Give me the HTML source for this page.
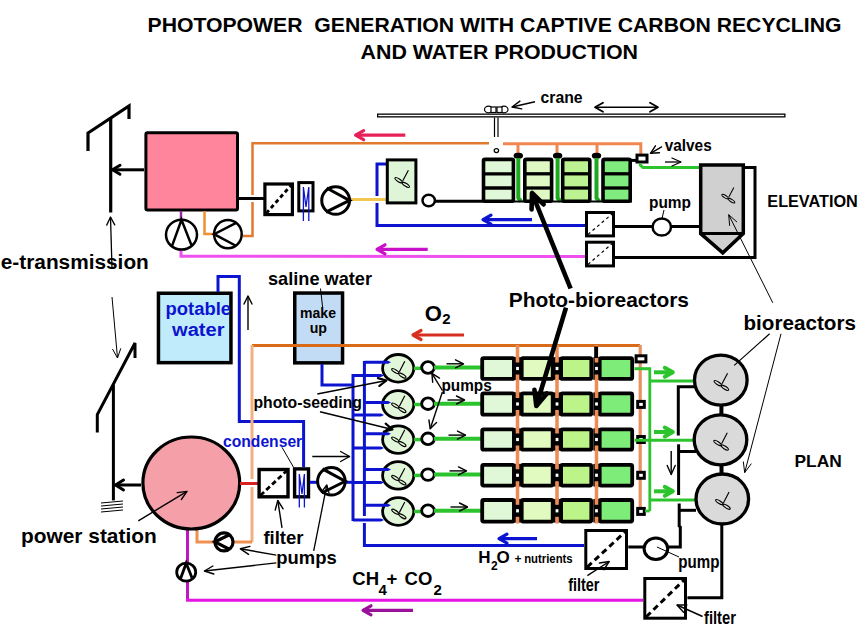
<!DOCTYPE html>
<html><head><meta charset="utf-8"><style>
html,body{margin:0;padding:0;background:#fff;}
body{width:859px;height:626px;overflow:hidden;}
svg{display:block;font-family:"Liberation Sans",sans-serif;}
</style></head><body>
<svg width="859" height="626" viewBox="0 0 859 626">
<rect width="859" height="626" fill="#fff"/>
<text x="147.5" y="31.5" font-size="21" fill="#000" font-weight="bold" textLength="694" lengthAdjust="spacingAndGlyphs" >PHOTOPOWER&#160; GENERATION WITH CAPTIVE CARBON RECYCLING</text>
<text x="360.5" y="58.5" font-size="21" fill="#000" font-weight="bold" textLength="277.5" lengthAdjust="spacingAndGlyphs" >AND WATER PRODUCTION</text>
<line x1="110.7" y1="118" x2="110.7" y2="212.5" stroke="#000" stroke-width="3.2" />
<polyline points="88,151 88,133 129,106 129,119" fill="none" stroke="#000" stroke-width="3.2" />
<line x1="144" y1="169.8" x2="112.5" y2="169.8" stroke="#000" stroke-width="3" />
<polyline points="120,165.3 112.5,169.8 120,174.3" fill="none" stroke="#000" stroke-width="3" stroke-linecap="round" stroke-linejoin="round"/>
<line x1="112" y1="268" x2="110.5" y2="217" stroke="#000" stroke-width="1.3" />
<polyline points="114.73,224.88 110.5,217 106.74,225.11" fill="none" stroke="#000" stroke-width="1.3" stroke-linecap="round" stroke-linejoin="round"/>
<rect x="145.9" y="132.7" width="91.6" height="77.2" fill="#ff859c" stroke="#000" stroke-width="3" rx="1.5"/>
<polyline points="204.5,211 204.5,234 213,234" fill="none" stroke="#f09030" stroke-width="2.5" />
<polyline points="243,236 252.5,236 252.5,143.3 489,143.3" fill="none" stroke="#e07a30" stroke-width="2.5" />
<rect x="250" y="195" width="5" height="7" fill="#fff"/>
<line x1="238" y1="198.5" x2="264" y2="198.5" stroke="#000" stroke-width="3" />
<polyline points="503,143.8 640.8,143.8 640.8,154" fill="none" stroke="#f08850" stroke-width="3" />
<line x1="518" y1="143" x2="518" y2="153" stroke="#f08850" stroke-width="3" />
<line x1="557" y1="143" x2="557" y2="153" stroke="#f08850" stroke-width="3" />
<line x1="597" y1="143" x2="597" y2="153" stroke="#f08850" stroke-width="3" />
<line x1="181" y1="211" x2="181" y2="219" stroke="#9030a0" stroke-width="2.5" />
<polyline points="181,250 181,256.3 585,256.6" fill="none" stroke="#ee50ee" stroke-width="3" />
<line x1="427.7" y1="249.3" x2="377" y2="249.3" stroke="#c810c8" stroke-width="3.2" />
<polyline points="385,244.8 377,249.3 385,253.8" fill="none" stroke="#c810c8" stroke-width="3.2" stroke-linecap="round" stroke-linejoin="round"/>
<ellipse cx="181.5" cy="234.7" rx="15.5" ry="14.9" fill="#fff" stroke="#000" stroke-width="2.5"/>
<polyline points="171.89,246.32 181.5,219.8 191.73,245.88" fill="none" stroke="#000" stroke-width="2.5" />
<ellipse cx="227.9" cy="234.2" rx="13.8" ry="14.1" fill="#fff" stroke="#000" stroke-width="2.5"/>
<polyline points="236.18,222.92 214.1,234.2 235.9,245.76" fill="none" stroke="#000" stroke-width="2.5" />
<rect x="264.9" y="184" width="27.5" height="30.6" fill="#fff" stroke="#000" stroke-width="3.2" />
<line x1="266.3" y1="213.2" x2="291" y2="185.4" stroke="#000" stroke-width="2.8" stroke-dasharray="4,3"/>
<rect x="298.8" y="182.6" width="14.2" height="28.3" fill="#fff" stroke="#000" stroke-width="3" />
<polyline points="303.4,221 303.4,187 306,207 308.8,187 308.8,221" fill="none" stroke="#0c14d0" stroke-width="1.3" />
<polyline points="386,164 377,164 377,225.6 585,225.6" fill="none" stroke="#0c14d0" stroke-width="3" />
<rect x="375" y="196" width="4" height="7" fill="#fff"/>
<line x1="350" y1="199.5" x2="386" y2="199.5" stroke="#f0c850" stroke-width="3" />
<ellipse cx="335.65" cy="200.45" rx="13.9" ry="13.8" fill="#fff" stroke="#000" stroke-width="3"/>
<polyline points="326.61,188.03 349.55,200.45 325.92,212.18" fill="none" stroke="#000" stroke-width="3" />
<line x1="532" y1="219.7" x2="483" y2="219.7" stroke="#0c14d0" stroke-width="3.2" />
<polyline points="491,215.2 483,219.7 491,224.2" fill="none" stroke="#0c14d0" stroke-width="3.2" stroke-linecap="round" stroke-linejoin="round"/>
<rect x="387.3" y="159.9" width="28.6" height="43" fill="#dff5d8" stroke="#000" stroke-width="3" />
<g transform="translate(402.2,182.5) scale(0.95)" fill="none" stroke="#000" stroke-width="1.2"><line x1="0.5" y1="-1.5" x2="6.5" y2="-13"/><ellipse cx="-3.8" cy="-2.4" rx="4.5" ry="1.5" transform="rotate(32 -3.8 -2.4)"/><ellipse cx="3.8" cy="2.4" rx="4.5" ry="1.5" transform="rotate(32 3.8 2.4)"/></g>
<ellipse cx="428.7" cy="200.5" rx="6.2" ry="5.8" fill="#fff" stroke="#000" stroke-width="2.5"/>
<line x1="435" y1="201.2" x2="483" y2="201.2" stroke="#000" stroke-width="3" />
<line x1="405.3" y1="135.2" x2="355.6" y2="135.2" stroke="#e8205a" stroke-width="3.2" />
<polyline points="363.6,130.7 355.6,135.2 363.6,139.7" fill="none" stroke="#e8205a" stroke-width="3.2" stroke-linecap="round" stroke-linejoin="round"/>
<rect x="377.65" y="114.15" width="407.2" height="2.7" fill="#fff" stroke="#000" stroke-width="1.3" />
<g fill="#fff" stroke="#000" stroke-width="1.2"><ellipse cx="488.5" cy="109.5" rx="4" ry="3.3"/><ellipse cx="504" cy="109.5" rx="4" ry="3.3"/><rect x="491" y="107" width="5" height="5.5"/><rect x="497" y="107" width="5" height="5.5"/></g>
<line x1="494.5" y1="117.5" x2="494.5" y2="137" stroke="#000" stroke-width="1.2" />
<line x1="498" y1="117.5" x2="498" y2="137" stroke="#000" stroke-width="1.2" />
<ellipse cx="496.4" cy="150.6" rx="2.2" ry="2" fill="#fff" stroke="#000" stroke-width="1.2"/>
<text x="540.5" y="103" font-size="16" fill="#000" font-weight="bold" textLength="42" lengthAdjust="spacingAndGlyphs" >crane</text>
<line x1="535" y1="101.8" x2="512" y2="107" stroke="#000" stroke-width="1.4" />
<polyline points="519.9,101.11 512,107 521.66,108.92" fill="none" stroke="#000" stroke-width="1.4" stroke-linecap="round" stroke-linejoin="round"/>
<line x1="595" y1="107.3" x2="658" y2="107.3" stroke="#000" stroke-width="1.5" />
<polyline points="603,102.8 595,107.3 603,111.8" fill="none" stroke="#000" stroke-width="1.8" stroke-linecap="round" stroke-linejoin="round"/>
<polyline points="650,111.8 658,107.3 650,102.8" fill="none" stroke="#000" stroke-width="1.8" stroke-linecap="round" stroke-linejoin="round"/>
<rect x="483.5" y="159.4" width="29.9" height="41.8" fill="#dff8d8" stroke="#000" stroke-width="3.6" rx="1.5"/>
<line x1="482.7" y1="173.8" x2="514.2" y2="173.8" stroke="#000" stroke-width="3.3" />
<line x1="482.7" y1="188" x2="514.2" y2="188" stroke="#000" stroke-width="3.3" />
<rect x="524.8" y="159.4" width="26.8" height="41.8" fill="#e0f8c4" stroke="#000" stroke-width="3.6" rx="1.5"/>
<line x1="524" y1="173.8" x2="552.4" y2="173.8" stroke="#000" stroke-width="3.3" />
<line x1="524" y1="188" x2="552.4" y2="188" stroke="#000" stroke-width="3.3" />
<rect x="562.7" y="159.4" width="27.1" height="41.8" fill="#bcf292" stroke="#000" stroke-width="3.6" rx="1.5"/>
<line x1="561.9" y1="173.8" x2="590.6" y2="173.8" stroke="#000" stroke-width="3.3" />
<line x1="561.9" y1="188" x2="590.6" y2="188" stroke="#000" stroke-width="3.3" />
<rect x="603" y="159.4" width="27.2" height="41.8" fill="#80ec80" stroke="#000" stroke-width="3.6" rx="1.5"/>
<line x1="602.2" y1="173.8" x2="631" y2="173.8" stroke="#000" stroke-width="3.3" />
<line x1="602.2" y1="188" x2="631" y2="188" stroke="#000" stroke-width="3.3" />
<rect x="515.1" y="154.2" width="6.4" height="3.1" fill="#fff" stroke="#000" stroke-width="3" rx="2.5"/>
<polyline points="518.3,158 518.3,198 521.3,201.5" fill="none" stroke="#1ea81e" stroke-width="4" />
<rect x="554.4" y="154.2" width="6.4" height="3.1" fill="#fff" stroke="#000" stroke-width="3" rx="2.5"/>
<polyline points="557.6,158 557.6,198 560.6,201.5" fill="none" stroke="#1ea81e" stroke-width="4" />
<rect x="593.3" y="154.2" width="6.4" height="3.1" fill="#fff" stroke="#000" stroke-width="3" rx="2.5"/>
<polyline points="596.5,158 596.5,198 599.5,201.5" fill="none" stroke="#1ea81e" stroke-width="4" />
<line x1="483" y1="201.5" x2="632" y2="201.5" stroke="#000" stroke-width="2" />
<line x1="631" y1="160.4" x2="636" y2="160.4" stroke="#000" stroke-width="3" />
<rect x="637" y="155.1" width="10" height="6.9" fill="#fff" stroke="#000" stroke-width="3" />
<polyline points="640.3,163.7 640.3,165 643,167.5 701,167.5" fill="none" stroke="#2cc42c" stroke-width="3" />
<line x1="665" y1="162" x2="681" y2="162" stroke="#000" stroke-width="1.3" />
<polyline points="672,166 681,162 672,158" fill="none" stroke="#000" stroke-width="1.3" stroke-linecap="round" stroke-linejoin="round"/>
<text x="664.7" y="150.7" font-size="16" fill="#000" font-weight="bold" textLength="47" lengthAdjust="spacingAndGlyphs" >valves</text>
<line x1="662" y1="146.7" x2="650.5" y2="153.3" stroke="#000" stroke-width="1.4" />
<polyline points="655.45,145.85 650.5,153.3 659.43,152.79" fill="none" stroke="#000" stroke-width="1.4" stroke-linecap="round" stroke-linejoin="round"/>
<path d="M700.7,165 L743.3,165 L743.3,233.6 L722.8,252.8 L700.7,233.6 Z" fill="#d0d0d0" stroke="#000" stroke-width="3.5"/>
<line x1="700.7" y1="233.6" x2="743.3" y2="233.6" stroke="#000" stroke-width="3" />
<polyline points="743,167.5 755,167.5 755,257.5 615,257.5" fill="none" stroke="#000" stroke-width="3" />
<g transform="translate(728.3,198.6) scale(0.85)" fill="none" stroke="#000" stroke-width="1.2"><line x1="0.5" y1="-1.5" x2="6.5" y2="-13"/><ellipse cx="-3.8" cy="-2.4" rx="4.5" ry="1.5" transform="rotate(32 -3.8 -2.4)"/><ellipse cx="3.8" cy="2.4" rx="4.5" ry="1.5" transform="rotate(32 3.8 2.4)"/></g>
<text x="767.3" y="206.7" font-size="16" fill="#000" font-weight="bold" textLength="90.5" lengthAdjust="spacingAndGlyphs" >ELEVATION</text>
<text x="649" y="207.5" font-size="16" fill="#000" font-weight="bold" textLength="42" lengthAdjust="spacingAndGlyphs" >pump</text>
<line x1="664" y1="210" x2="660" y2="227" stroke="#000" stroke-width="1" />
<line x1="615" y1="226.6" x2="700.7" y2="226.6" stroke="#000" stroke-width="3" />
<ellipse cx="661.8" cy="227" rx="9.2" ry="8.6" fill="#fff" stroke="#000" stroke-width="2.5"/>
<rect x="586.5" y="212.5" width="27" height="23.4" fill="#fff" stroke="#000" stroke-width="3" />
<line x1="588" y1="234.4" x2="612" y2="214" stroke="#000" stroke-width="1.2" stroke-dasharray="3,3"/>
<rect x="586.5" y="242.2" width="27" height="23.7" fill="#fff" stroke="#000" stroke-width="3" />
<line x1="588" y1="264.4" x2="612" y2="243.7" stroke="#000" stroke-width="1.2" stroke-dasharray="3,3"/>
<text x="0.8" y="269" font-size="20" fill="#000" font-weight="bold" textLength="148" lengthAdjust="spacingAndGlyphs" >e-transmission</text>
<text x="268" y="284.5" font-size="19" fill="#000" font-weight="bold" textLength="104" lengthAdjust="spacingAndGlyphs" >saline water</text>
<text x="508.7" y="307.3" font-size="21" fill="#000" font-weight="bold" textLength="180.3" lengthAdjust="spacingAndGlyphs" >Photo-bioreactors</text>
<text x="743.5" y="330" font-size="20" fill="#000" font-weight="bold" textLength="112.5" lengthAdjust="spacingAndGlyphs" >bioreactors</text>
<text x="424.8" y="320.6" font-size="22" fill="#000" font-weight="bold" >O</text>
<text x="442.3" y="323.9" font-size="15" fill="#000" font-weight="bold" >2</text>
<line x1="464" y1="335" x2="413" y2="335" stroke="#d83020" stroke-width="3.2" />
<polyline points="421,330.5 413,335 421,339.5" fill="none" stroke="#d83020" stroke-width="3.2" stroke-linecap="round" stroke-linejoin="round"/>
<line x1="772.8" y1="302.8" x2="728.7" y2="214.7" stroke="#000" stroke-width="1" />
<polyline points="736.75,221.85 728.7,214.7 729.6,225.43" fill="none" stroke="#000" stroke-width="1" stroke-linecap="round" stroke-linejoin="round"/>
<rect x="158.45" y="293.25" width="72.5" height="69.4" fill="#c0ebfb" stroke="#000" stroke-width="3.5" />
<text x="165.6" y="314.5" font-size="18" fill="#0c14d0" font-weight="bold" textLength="65.5" lengthAdjust="spacingAndGlyphs" >potable</text>
<text x="172" y="335.6" font-size="18" fill="#0c14d0" font-weight="bold" textLength="52.5" lengthAdjust="spacingAndGlyphs" >water</text>
<polyline points="218,292 218,276.6 239.3,276.6 239.3,421.4 303.6,421.4 303.6,467" fill="none" stroke="#0c14d0" stroke-width="3" />
<line x1="248" y1="330" x2="248" y2="296" stroke="#000" stroke-width="1.4" />
<polyline points="252,304 248,296 244,304" fill="none" stroke="#000" stroke-width="1.4" stroke-linecap="round" stroke-linejoin="round"/>
<rect x="294.75" y="293.05" width="47.8" height="69.8" fill="#c2dcf6" stroke="#000" stroke-width="3.5" />
<text x="300" y="318.3" font-size="14" fill="#000" font-weight="bold" textLength="36" lengthAdjust="spacingAndGlyphs" >make</text>
<text x="309.7" y="332.5" font-size="14" fill="#000" font-weight="bold" textLength="17.3" lengthAdjust="spacingAndGlyphs" >up</text>
<line x1="320.5" y1="288.5" x2="322.6" y2="307" stroke="#000" stroke-width="1" />
<polyline points="322,364 322,384.9 353,384.9" fill="none" stroke="#0c14d0" stroke-width="3" />
<line x1="252" y1="345.5" x2="640" y2="345.5" stroke="#d86a18" stroke-width="3" />
<line x1="252" y1="345" x2="252" y2="479" stroke="#f0b080" stroke-width="3" />
<line x1="252" y1="487" x2="252" y2="542" stroke="#f0b080" stroke-width="3" />
<polyline points="197,529 197,542 252,542" fill="none" stroke="#f09050" stroke-width="3" />
<line x1="517.5" y1="345" x2="517.5" y2="523" stroke="#ee8c55" stroke-width="3.5" />
<line x1="557" y1="345" x2="557" y2="523" stroke="#ee8c55" stroke-width="3.5" />
<line x1="596.5" y1="345" x2="596.5" y2="523" stroke="#ee8c55" stroke-width="3.5" />
<line x1="640.2" y1="345" x2="640.2" y2="511" stroke="#e89060" stroke-width="3.2" />
<line x1="364.4" y1="361" x2="364.4" y2="516" stroke="#0c14d0" stroke-width="3" />
<line x1="364.4" y1="523" x2="364.4" y2="547" stroke="#0c14d0" stroke-width="3" />
<line x1="353" y1="374" x2="353" y2="521" stroke="#0c14d0" stroke-width="3" />
<line x1="363" y1="545.5" x2="584" y2="545.5" stroke="#0c14d0" stroke-width="3" />
<line x1="537" y1="538.7" x2="499" y2="538.7" stroke="#0c14d0" stroke-width="3.2" />
<polyline points="507,534.2 499,538.7 507,543.2" fill="none" stroke="#0c14d0" stroke-width="3.2" stroke-linecap="round" stroke-linejoin="round"/>
<ellipse cx="398.2" cy="368.3" rx="15.6" ry="13.8" fill="#e2f6da" stroke="#000" stroke-width="2.8"/>
<g transform="translate(398.8,373.3) scale(0.92)" fill="none" stroke="#000" stroke-width="1.3"><line x1="0.5" y1="-1.5" x2="6.5" y2="-13"/><ellipse cx="-3.8" cy="-2.4" rx="4.5" ry="1.5" transform="rotate(32 -3.8 -2.4)"/><ellipse cx="3.8" cy="2.4" rx="4.5" ry="1.5" transform="rotate(32 3.8 2.4)"/></g>
<line x1="414" y1="368.3" x2="421" y2="368.3" stroke="#2cc42c" stroke-width="3.5" />
<ellipse cx="428" cy="367.5" rx="6.3" ry="5.8" fill="#fff" stroke="#000" stroke-width="2.8"/>
<line x1="434" y1="367.5" x2="481" y2="367.5" stroke="#2cc42c" stroke-width="4" />
<line x1="446.5" y1="363.8" x2="463.5" y2="363.8" stroke="#000" stroke-width="1.4" />
<polyline points="455.5,367.8 463.5,363.8 455.5,359.8" fill="none" stroke="#000" stroke-width="1.4" stroke-linecap="round" stroke-linejoin="round"/>
<ellipse cx="398.2" cy="404.5" rx="15.6" ry="13.8" fill="#e2f6da" stroke="#000" stroke-width="2.8"/>
<g transform="translate(398.8,407.8) scale(0.92)" fill="none" stroke="#000" stroke-width="1.3"><line x1="0.5" y1="-1.5" x2="6.5" y2="-13"/><ellipse cx="-3.8" cy="-2.4" rx="4.5" ry="1.5" transform="rotate(32 -3.8 -2.4)"/><ellipse cx="3.8" cy="2.4" rx="4.5" ry="1.5" transform="rotate(32 3.8 2.4)"/></g>
<line x1="414" y1="404.5" x2="421" y2="404.5" stroke="#2cc42c" stroke-width="3.5" />
<ellipse cx="428" cy="403.7" rx="6.3" ry="5.8" fill="#fff" stroke="#000" stroke-width="2.8"/>
<line x1="434" y1="403.7" x2="481" y2="403.7" stroke="#2cc42c" stroke-width="4" />
<line x1="447.5" y1="400" x2="464.5" y2="400" stroke="#000" stroke-width="1.4" />
<polyline points="456.5,404 464.5,400 456.5,396" fill="none" stroke="#000" stroke-width="1.4" stroke-linecap="round" stroke-linejoin="round"/>
<ellipse cx="398.2" cy="439.6" rx="15.6" ry="13.8" fill="#e2f6da" stroke="#000" stroke-width="2.8"/>
<g transform="translate(398.8,441.8) scale(0.92)" fill="none" stroke="#000" stroke-width="1.3"><line x1="0.5" y1="-1.5" x2="6.5" y2="-13"/><ellipse cx="-3.8" cy="-2.4" rx="4.5" ry="1.5" transform="rotate(32 -3.8 -2.4)"/><ellipse cx="3.8" cy="2.4" rx="4.5" ry="1.5" transform="rotate(32 3.8 2.4)"/></g>
<line x1="414" y1="439.6" x2="421" y2="439.6" stroke="#2cc42c" stroke-width="3.5" />
<ellipse cx="428" cy="438.8" rx="6.3" ry="5.8" fill="#fff" stroke="#000" stroke-width="2.8"/>
<line x1="434" y1="438.8" x2="481" y2="438.8" stroke="#2cc42c" stroke-width="4" />
<line x1="448.5" y1="435.1" x2="465.5" y2="435.1" stroke="#000" stroke-width="1.4" />
<polyline points="457.5,439.1 465.5,435.1 457.5,431.1" fill="none" stroke="#000" stroke-width="1.4" stroke-linecap="round" stroke-linejoin="round"/>
<ellipse cx="398.2" cy="475.4" rx="15.6" ry="13.8" fill="#e2f6da" stroke="#000" stroke-width="2.8"/>
<g transform="translate(398.8,480.2) scale(0.92)" fill="none" stroke="#000" stroke-width="1.3"><line x1="0.5" y1="-1.5" x2="6.5" y2="-13"/><ellipse cx="-3.8" cy="-2.4" rx="4.5" ry="1.5" transform="rotate(32 -3.8 -2.4)"/><ellipse cx="3.8" cy="2.4" rx="4.5" ry="1.5" transform="rotate(32 3.8 2.4)"/></g>
<line x1="414" y1="475.4" x2="421" y2="475.4" stroke="#2cc42c" stroke-width="3.5" />
<ellipse cx="428" cy="474.6" rx="6.3" ry="5.8" fill="#fff" stroke="#000" stroke-width="2.8"/>
<line x1="434" y1="474.6" x2="481" y2="474.6" stroke="#2cc42c" stroke-width="4" />
<line x1="449.5" y1="470.9" x2="466.5" y2="470.9" stroke="#000" stroke-width="1.4" />
<polyline points="458.5,474.9 466.5,470.9 458.5,466.9" fill="none" stroke="#000" stroke-width="1.4" stroke-linecap="round" stroke-linejoin="round"/>
<ellipse cx="398.2" cy="511.5" rx="15.6" ry="13.8" fill="#e2f6da" stroke="#000" stroke-width="2.8"/>
<g transform="translate(398.8,514) scale(0.92)" fill="none" stroke="#000" stroke-width="1.3"><line x1="0.5" y1="-1.5" x2="6.5" y2="-13"/><ellipse cx="-3.8" cy="-2.4" rx="4.5" ry="1.5" transform="rotate(32 -3.8 -2.4)"/><ellipse cx="3.8" cy="2.4" rx="4.5" ry="1.5" transform="rotate(32 3.8 2.4)"/></g>
<line x1="414" y1="511.5" x2="421" y2="511.5" stroke="#2cc42c" stroke-width="3.5" />
<ellipse cx="428" cy="510.7" rx="6.3" ry="5.8" fill="#fff" stroke="#000" stroke-width="2.8"/>
<line x1="434" y1="510.7" x2="481" y2="510.7" stroke="#2cc42c" stroke-width="4" />
<line x1="450.5" y1="507" x2="467.5" y2="507" stroke="#000" stroke-width="1.4" />
<polyline points="459.5,511 467.5,507 459.5,503" fill="none" stroke="#000" stroke-width="1.4" stroke-linecap="round" stroke-linejoin="round"/>
<path d="M364.4,360.8 L388,360.8 L391,362.3 L388,363.8 L364.4,363.8 Z" fill="#0c14d0"/>
<path d="M353,374.0 L381,374.0 L384,375.5 L381,377.0 L353,377.0 Z" fill="#0c14d0"/>
<path d="M364.4,400.9 L388,400.9 L391,402.4 L388,403.9 L364.4,403.9 Z" fill="#0c14d0"/>
<path d="M353,413.4 L381,413.4 L384,414.9 L381,416.4 L353,416.4 Z" fill="#0c14d0"/>
<path d="M364.4,432.2 L388,432.2 L391,433.7 L388,435.2 L364.4,435.2 Z" fill="#0c14d0"/>
<path d="M353,446.6 L381,446.6 L384,448.1 L381,449.6 L353,449.6 Z" fill="#0c14d0"/>
<path d="M364.4,468.1 L388,468.1 L391,469.6 L388,471.1 L364.4,471.1 Z" fill="#0c14d0"/>
<path d="M353,480.9 L381,480.9 L384,482.4 L381,483.9 L353,483.9 Z" fill="#0c14d0"/>
<path d="M364.4,503.7 L388,503.7 L391,505.2 L388,506.7 L364.4,506.7 Z" fill="#0c14d0"/>
<path d="M353,518.4 L381,518.4 L384,519.9 L381,521.4 L353,521.4 Z" fill="#0c14d0"/>
<rect x="482.2" y="358.1" width="31.7" height="20.8" fill="#e0f8d8" stroke="#000" stroke-width="3.8" rx="1.5"/>
<rect x="521.7" y="358.1" width="31" height="20.8" fill="#e0fac0" stroke="#000" stroke-width="3.8" rx="1.5"/>
<rect x="561.1" y="358.1" width="30.2" height="20.8" fill="#bdf48a" stroke="#000" stroke-width="3.8" rx="1.5"/>
<rect x="599.7" y="358.1" width="32.5" height="20.8" fill="#7eec78" stroke="#000" stroke-width="3.8" rx="1.5"/>
<rect x="482.2" y="393.3" width="31.7" height="21.4" fill="#e0f8d8" stroke="#000" stroke-width="3.8" rx="1.5"/>
<rect x="521.7" y="393.3" width="31" height="21.4" fill="#e0fac0" stroke="#000" stroke-width="3.8" rx="1.5"/>
<rect x="561.1" y="393.3" width="30.2" height="21.4" fill="#bdf48a" stroke="#000" stroke-width="3.8" rx="1.5"/>
<rect x="599.7" y="393.3" width="32.5" height="21.4" fill="#7eec78" stroke="#000" stroke-width="3.8" rx="1.5"/>
<rect x="482.2" y="429.3" width="31.7" height="20.4" fill="#e0f8d8" stroke="#000" stroke-width="3.8" rx="1.5"/>
<rect x="521.7" y="429.3" width="31" height="20.4" fill="#e0fac0" stroke="#000" stroke-width="3.8" rx="1.5"/>
<rect x="561.1" y="429.3" width="30.2" height="20.4" fill="#bdf48a" stroke="#000" stroke-width="3.8" rx="1.5"/>
<rect x="599.7" y="429.3" width="32.5" height="20.4" fill="#7eec78" stroke="#000" stroke-width="3.8" rx="1.5"/>
<rect x="482.2" y="464.9" width="31.7" height="20.7" fill="#e0f8d8" stroke="#000" stroke-width="3.8" rx="1.5"/>
<rect x="521.7" y="464.9" width="31" height="20.7" fill="#e0fac0" stroke="#000" stroke-width="3.8" rx="1.5"/>
<rect x="561.1" y="464.9" width="30.2" height="20.7" fill="#bdf48a" stroke="#000" stroke-width="3.8" rx="1.5"/>
<rect x="599.7" y="464.9" width="32.5" height="20.7" fill="#7eec78" stroke="#000" stroke-width="3.8" rx="1.5"/>
<rect x="482.2" y="500" width="31.7" height="21.6" fill="#e0f8d8" stroke="#000" stroke-width="3.8" rx="1.5"/>
<rect x="521.7" y="500" width="31" height="21.6" fill="#e0fac0" stroke="#000" stroke-width="3.8" rx="1.5"/>
<rect x="561.1" y="500" width="30.2" height="21.6" fill="#bdf48a" stroke="#000" stroke-width="3.8" rx="1.5"/>
<rect x="599.7" y="500" width="32.5" height="21.6" fill="#7eec78" stroke="#000" stroke-width="3.8" rx="1.5"/>
<rect x="514.3" y="357.2" width="6.4" height="22.6" fill="#000"/>
<rect x="515.7" y="356.2" width="3.6" height="6.3" fill="#ee8c55"/>
<rect x="515.7" y="374.5" width="3.6" height="6.3" fill="#ee8c55"/>
<rect x="516.1" y="366.9" width="2.8" height="3.2" fill="#fff"/>
<rect x="553.8" y="357.2" width="6.4" height="22.6" fill="#000"/>
<rect x="555.2" y="356.2" width="3.6" height="6.3" fill="#ee8c55"/>
<rect x="555.2" y="374.5" width="3.6" height="6.3" fill="#ee8c55"/>
<rect x="555.6" y="366.9" width="2.8" height="3.2" fill="#fff"/>
<rect x="593.3" y="357.2" width="6.4" height="22.6" fill="#000"/>
<rect x="594.7" y="356.2" width="3.6" height="6.3" fill="#ee8c55"/>
<rect x="594.7" y="374.5" width="3.6" height="6.3" fill="#ee8c55"/>
<rect x="595.1" y="366.9" width="2.8" height="3.2" fill="#fff"/>
<rect x="514.3" y="392.4" width="6.4" height="23.2" fill="#000"/>
<rect x="515.7" y="391.4" width="3.6" height="6.6" fill="#ee8c55"/>
<rect x="515.7" y="410" width="3.6" height="6.6" fill="#ee8c55"/>
<rect x="516.1" y="402.4" width="2.8" height="3.2" fill="#fff"/>
<rect x="553.8" y="392.4" width="6.4" height="23.2" fill="#000"/>
<rect x="555.2" y="391.4" width="3.6" height="6.6" fill="#ee8c55"/>
<rect x="555.2" y="410" width="3.6" height="6.6" fill="#ee8c55"/>
<rect x="555.6" y="402.4" width="2.8" height="3.2" fill="#fff"/>
<rect x="593.3" y="392.4" width="6.4" height="23.2" fill="#000"/>
<rect x="594.7" y="391.4" width="3.6" height="6.6" fill="#ee8c55"/>
<rect x="594.7" y="410" width="3.6" height="6.6" fill="#ee8c55"/>
<rect x="595.1" y="402.4" width="2.8" height="3.2" fill="#fff"/>
<rect x="514.3" y="428.4" width="6.4" height="22.2" fill="#000"/>
<rect x="515.7" y="427.4" width="3.6" height="6.1" fill="#ee8c55"/>
<rect x="515.7" y="445.5" width="3.6" height="6.1" fill="#ee8c55"/>
<rect x="516.1" y="437.9" width="2.8" height="3.2" fill="#fff"/>
<rect x="553.8" y="428.4" width="6.4" height="22.2" fill="#000"/>
<rect x="555.2" y="427.4" width="3.6" height="6.1" fill="#ee8c55"/>
<rect x="555.2" y="445.5" width="3.6" height="6.1" fill="#ee8c55"/>
<rect x="555.6" y="437.9" width="2.8" height="3.2" fill="#fff"/>
<rect x="593.3" y="428.4" width="6.4" height="22.2" fill="#000"/>
<rect x="594.7" y="427.4" width="3.6" height="6.1" fill="#ee8c55"/>
<rect x="594.7" y="445.5" width="3.6" height="6.1" fill="#ee8c55"/>
<rect x="595.1" y="437.9" width="2.8" height="3.2" fill="#fff"/>
<rect x="514.3" y="464" width="6.4" height="22.5" fill="#000"/>
<rect x="515.7" y="463" width="3.6" height="6.25" fill="#ee8c55"/>
<rect x="515.7" y="481.25" width="3.6" height="6.25" fill="#ee8c55"/>
<rect x="516.1" y="473.65" width="2.8" height="3.2" fill="#fff"/>
<rect x="553.8" y="464" width="6.4" height="22.5" fill="#000"/>
<rect x="555.2" y="463" width="3.6" height="6.25" fill="#ee8c55"/>
<rect x="555.2" y="481.25" width="3.6" height="6.25" fill="#ee8c55"/>
<rect x="555.6" y="473.65" width="2.8" height="3.2" fill="#fff"/>
<rect x="593.3" y="464" width="6.4" height="22.5" fill="#000"/>
<rect x="594.7" y="463" width="3.6" height="6.25" fill="#ee8c55"/>
<rect x="594.7" y="481.25" width="3.6" height="6.25" fill="#ee8c55"/>
<rect x="595.1" y="473.65" width="2.8" height="3.2" fill="#fff"/>
<rect x="514.3" y="499.1" width="6.4" height="23.4" fill="#000"/>
<rect x="515.7" y="498.1" width="3.6" height="6.7" fill="#ee8c55"/>
<rect x="515.7" y="516.8" width="3.6" height="6.7" fill="#ee8c55"/>
<rect x="516.1" y="509.2" width="2.8" height="3.2" fill="#fff"/>
<rect x="553.8" y="499.1" width="6.4" height="23.4" fill="#000"/>
<rect x="555.2" y="498.1" width="3.6" height="6.7" fill="#ee8c55"/>
<rect x="555.2" y="516.8" width="3.6" height="6.7" fill="#ee8c55"/>
<rect x="555.6" y="509.2" width="2.8" height="3.2" fill="#fff"/>
<rect x="593.3" y="499.1" width="6.4" height="23.4" fill="#000"/>
<rect x="594.7" y="498.1" width="3.6" height="6.7" fill="#ee8c55"/>
<rect x="594.7" y="516.8" width="3.6" height="6.7" fill="#ee8c55"/>
<rect x="595.1" y="509.2" width="2.8" height="3.2" fill="#fff"/>
<rect x="594.2" y="346.5" width="3.8" height="11.5" fill="#000"/>
<rect x="636.1" y="355.8" width="9.8" height="6.1" fill="#fff" stroke="#000" stroke-width="3" />
<rect x="637.7" y="401.4" width="6.6" height="6" fill="#fff" stroke="#000" stroke-width="3" />
<rect x="637.7" y="436.5" width="6.6" height="6" fill="#fff" stroke="#000" stroke-width="3" />
<rect x="637.7" y="472.3" width="6.6" height="6" fill="#fff" stroke="#000" stroke-width="3" />
<rect x="637.7" y="508.4" width="6.6" height="6" fill="#fff" stroke="#000" stroke-width="3" />
<line x1="634.6" y1="368.7" x2="651" y2="368.7" stroke="#2cc42c" stroke-width="3" />
<line x1="649.8" y1="368" x2="649.8" y2="511" stroke="#2cc42c" stroke-width="2.8" />
<line x1="645" y1="511" x2="649.8" y2="511" stroke="#2cc42c" stroke-width="2.8" />
<line x1="649.6" y1="381" x2="696" y2="381" stroke="#2cc42c" stroke-width="3" />
<line x1="634.6" y1="440.3" x2="696" y2="440.3" stroke="#2cc42c" stroke-width="3" />
<line x1="649.6" y1="500" x2="696" y2="500" stroke="#2cc42c" stroke-width="3" />
<line x1="654" y1="372.3" x2="672.8" y2="372.3" stroke="#2cc42c" stroke-width="4" />
<polyline points="664.8,376.8 672.8,372.3 664.8,367.8" fill="none" stroke="#2cc42c" stroke-width="4" stroke-linecap="round" stroke-linejoin="round"/>
<line x1="654" y1="432" x2="672.8" y2="432" stroke="#2cc42c" stroke-width="4" />
<polyline points="664.8,436.5 672.8,432 664.8,427.5" fill="none" stroke="#2cc42c" stroke-width="4" stroke-linecap="round" stroke-linejoin="round"/>
<line x1="654" y1="491.3" x2="672.8" y2="491.3" stroke="#2cc42c" stroke-width="4" />
<polyline points="664.8,495.8 672.8,491.3 664.8,486.8" fill="none" stroke="#2cc42c" stroke-width="4" stroke-linecap="round" stroke-linejoin="round"/>
<ellipse cx="720.8" cy="380.1" rx="26.3" ry="25" fill="#dadada" stroke="#000" stroke-width="3.3"/>
<g transform="translate(721.4,385.5) scale(0.95)" fill="none" stroke="#000" stroke-width="1.2"><line x1="0.5" y1="-1.5" x2="6.5" y2="-13"/><ellipse cx="-3.8" cy="-2.4" rx="4.5" ry="1.5" transform="rotate(32 -3.8 -2.4)"/><ellipse cx="3.8" cy="2.4" rx="4.5" ry="1.5" transform="rotate(32 3.8 2.4)"/></g>
<ellipse cx="720.5" cy="439.8" rx="26.3" ry="25" fill="#dadada" stroke="#000" stroke-width="3.3"/>
<g transform="translate(721.1,445.2) scale(0.95)" fill="none" stroke="#000" stroke-width="1.2"><line x1="0.5" y1="-1.5" x2="6.5" y2="-13"/><ellipse cx="-3.8" cy="-2.4" rx="4.5" ry="1.5" transform="rotate(32 -3.8 -2.4)"/><ellipse cx="3.8" cy="2.4" rx="4.5" ry="1.5" transform="rotate(32 3.8 2.4)"/></g>
<ellipse cx="722.3" cy="499" rx="26.3" ry="25" fill="#dadada" stroke="#000" stroke-width="3.3"/>
<g transform="translate(722.9,504.4) scale(0.95)" fill="none" stroke="#000" stroke-width="1.2"><line x1="0.5" y1="-1.5" x2="6.5" y2="-13"/><ellipse cx="-3.8" cy="-2.4" rx="4.5" ry="1.5" transform="rotate(32 -3.8 -2.4)"/><ellipse cx="3.8" cy="2.4" rx="4.5" ry="1.5" transform="rotate(32 3.8 2.4)"/></g>
<line x1="721.4" y1="405" x2="721.4" y2="415" stroke="#000" stroke-width="4" />
<line x1="721.5" y1="465" x2="721.5" y2="475" stroke="#000" stroke-width="4" />
<polyline points="696,386.8 678.3,386.8 678.3,435.5" fill="none" stroke="#000" stroke-width="3" />
<line x1="678.6" y1="444.3" x2="678.6" y2="495" stroke="#000" stroke-width="3" />
<line x1="678.6" y1="451.5" x2="696" y2="451.5" stroke="#000" stroke-width="3" />
<polyline points="679.2,503.5 679.2,526 680.3,527 680.3,547.1 628.3,547.1" fill="none" stroke="#000" stroke-width="3" />
<line x1="679.2" y1="510.3" x2="696" y2="510.3" stroke="#000" stroke-width="3" />
<line x1="671.2" y1="451" x2="671.2" y2="474.5" stroke="#000" stroke-width="1.4" />
<polyline points="667.2,465.5 671.2,474.5 675.2,465.5" fill="none" stroke="#000" stroke-width="1.4" stroke-linecap="round" stroke-linejoin="round"/>
<polyline points="721.8,523 721.8,597.8 687.4,597.8" fill="none" stroke="#000" stroke-width="3" />
<ellipse cx="655.9" cy="548.7" rx="11.8" ry="10.8" fill="#fff" stroke="#000" stroke-width="3"/>
<rect x="585.8" y="530.5" width="40.7" height="38" fill="#fff" stroke="#000" stroke-width="3" />
<line x1="587.3" y1="567" x2="625" y2="532" stroke="#000" stroke-width="3" stroke-dasharray="6,4"/>
<rect x="644.8" y="578.5" width="40.7" height="39.7" fill="#fff" stroke="#000" stroke-width="3" />
<line x1="646.3" y1="616.7" x2="684" y2="580" stroke="#000" stroke-width="3" stroke-dasharray="6,4"/>
<text x="678.3" y="568" font-size="18" fill="#000" font-weight="bold" textLength="41.2" lengthAdjust="spacingAndGlyphs" >pump</text>
<line x1="657" y1="547" x2="679" y2="557" stroke="#000" stroke-width="1" />
<text x="568.2" y="591" font-size="18" fill="#000" font-weight="bold" textLength="31.3" lengthAdjust="spacingAndGlyphs" >filter</text>
<line x1="587.4" y1="575.6" x2="609.2" y2="561.5" stroke="#000" stroke-width="1.4" />
<polyline points="603.82,569.75 609.2,561.5 599.47,563.03" fill="none" stroke="#000" stroke-width="1.4" stroke-linecap="round" stroke-linejoin="round"/>
<text x="704" y="624.2" font-size="18" fill="#000" font-weight="bold" textLength="32" lengthAdjust="spacingAndGlyphs" >filter</text>
<line x1="702.6" y1="616.5" x2="677" y2="605" stroke="#000" stroke-width="1.4" />
<polyline points="686.85,605.04 677,605 683.57,612.34" fill="none" stroke="#000" stroke-width="1.4" stroke-linecap="round" stroke-linejoin="round"/>
<line x1="769.6" y1="333.8" x2="734.2" y2="365.4" stroke="#000" stroke-width="1.2" />
<line x1="781" y1="333.8" x2="744.7" y2="472.6" stroke="#000" stroke-width="1" />
<polyline points="743.36,461.91 744.7,472.6 751.1,463.94" fill="none" stroke="#000" stroke-width="1" stroke-linecap="round" stroke-linejoin="round"/>
<text x="794.5" y="466.9" font-size="17" fill="#000" font-weight="bold" textLength="47.2" lengthAdjust="spacingAndGlyphs" >PLAN</text>
<text x="478.3" y="562.5" font-size="17" fill="#000" font-weight="bold" >H</text>
<text x="491" y="569.5" font-size="12" fill="#000" font-weight="bold" >2</text>
<text x="496.4" y="562.5" font-size="17" fill="#000" font-weight="bold" >O</text>
<text x="514.5" y="562.5" font-size="12" fill="#000" font-weight="bold" >+</text>
<text x="524.2" y="562.5" font-size="12.5" fill="#000" font-weight="bold" textLength="48.5" lengthAdjust="spacingAndGlyphs" >nutrients</text>
<text x="352.3" y="584.8" font-size="18.5" fill="#000" font-weight="bold" >CH</text>
<text x="378.5" y="595" font-size="15" fill="#000" font-weight="bold" >4</text>
<text x="386.5" y="584.8" font-size="18.5" fill="#000" font-weight="bold" >+</text>
<text x="404.6" y="584.8" font-size="18.5" fill="#000" font-weight="bold" >CO</text>
<text x="433.6" y="595" font-size="15" fill="#000" font-weight="bold" >2</text>
<line x1="187.5" y1="529.5" x2="187.5" y2="600" stroke="#c018c0" stroke-width="3" />
<line x1="186" y1="600.2" x2="643" y2="600.2" stroke="#e414e4" stroke-width="3" />
<line x1="413" y1="610.3" x2="363" y2="610.3" stroke="#9a109a" stroke-width="3.2" />
<polyline points="371,605.8 363,610.3 371,614.8" fill="none" stroke="#9a109a" stroke-width="3.2" stroke-linecap="round" stroke-linejoin="round"/>
<ellipse cx="186.2" cy="572.2" rx="9.5" ry="9" fill="#fff" stroke="#000" stroke-width="2.8"/>
<polyline points="180.31,579.22 186.2,563.2 192.47,578.95" fill="none" stroke="#000" stroke-width="2.8" />
<ellipse cx="191.3" cy="483" rx="48.4" ry="46" fill="#f5a0a8" stroke="#000" stroke-width="3.2"/>
<line x1="240" y1="483.5" x2="258" y2="483.5" stroke="#d82020" stroke-width="3" />
<rect x="259.1" y="469.5" width="28.9" height="27.3" fill="#fff" stroke="#000" stroke-width="3.4" />
<line x1="260.4" y1="495.5" x2="286.7" y2="470.8" stroke="#000" stroke-width="2.8" stroke-dasharray="5,3"/>
<rect x="294.6" y="468.9" width="13.9" height="27.9" fill="#fff" stroke="#000" stroke-width="3.4" />
<polyline points="299.3,507.5 299.3,474 302,494 304.4,474 304.4,507.5" fill="none" stroke="#0c14d0" stroke-width="1.3" />
<line x1="310" y1="482.3" x2="317" y2="482.3" stroke="#0c14d0" stroke-width="3" />
<line x1="345" y1="482.3" x2="353" y2="482.3" stroke="#0c14d0" stroke-width="3" />
<ellipse cx="331.4" cy="481.3" rx="13.8" ry="13.8" fill="#fff" stroke="#000" stroke-width="3"/>
<polyline points="322.43,468.88 345.2,481.3 321.74,493.03" fill="none" stroke="#000" stroke-width="3" />
<text x="223" y="446.5" font-size="16" fill="#0c14d0" font-weight="bold" textLength="79.2" lengthAdjust="spacingAndGlyphs" >condenser</text>
<line x1="282" y1="447.3" x2="293.6" y2="467.4" stroke="#000" stroke-width="1" />
<line x1="312.3" y1="456.5" x2="349.6" y2="456.5" stroke="#000" stroke-width="1.4" />
<polyline points="340.6,461.5 349.6,456.5 340.6,451.5" fill="none" stroke="#000" stroke-width="1.4" stroke-linecap="round" stroke-linejoin="round"/>
<ellipse cx="224" cy="541.9" rx="9" ry="9" fill="#fff" stroke="#000" stroke-width="3.2"/>
<polyline points="229.4,534.7 215,541.9 229.22,549.28" fill="none" stroke="#000" stroke-width="3.2" />
<text x="263.4" y="543.6" font-size="19" fill="#000" font-weight="bold" textLength="40.2" lengthAdjust="spacingAndGlyphs" >filter</text>
<text x="276.3" y="563.8" font-size="19" fill="#000" font-weight="bold" textLength="60.4" lengthAdjust="spacingAndGlyphs" >pumps</text>
<line x1="282" y1="527.8" x2="277.8" y2="500.5" stroke="#000" stroke-width="1.4" />
<polyline points="283.12,508.79 277.8,500.5 275.22,510" fill="none" stroke="#000" stroke-width="1.4" stroke-linecap="round" stroke-linejoin="round"/>
<line x1="276.3" y1="555.1" x2="240.4" y2="548.8" stroke="#000" stroke-width="1.4" />
<polyline points="249.96,546.42 240.4,548.8 248.57,554.3" fill="none" stroke="#000" stroke-width="1.4" stroke-linecap="round" stroke-linejoin="round"/>
<line x1="276.3" y1="562.9" x2="204.4" y2="571" stroke="#000" stroke-width="1.4" />
<polyline points="212.9,566.02 204.4,571 213.79,573.97" fill="none" stroke="#000" stroke-width="1.4" stroke-linecap="round" stroke-linejoin="round"/>
<line x1="313.7" y1="550.8" x2="326.8" y2="485" stroke="#000" stroke-width="1.3" />
<polyline points="329.16,493.63 326.8,485 321.31,492.06" fill="none" stroke="#000" stroke-width="1.3" stroke-linecap="round" stroke-linejoin="round"/>
<text x="21" y="543" font-size="21" fill="#000" font-weight="bold" textLength="135.7" lengthAdjust="spacingAndGlyphs" >power station</text>
<line x1="138.3" y1="520.8" x2="187" y2="491.4" stroke="#000" stroke-width="1.4" />
<polyline points="181.36,499.48 187,491.4 177.23,492.63" fill="none" stroke="#000" stroke-width="1.4" stroke-linecap="round" stroke-linejoin="round"/>
<line x1="113.4" y1="385" x2="113.4" y2="500.4" stroke="#000" stroke-width="3" />
<polyline points="97.3,432.5 97.3,414.6 135,343 135,358" fill="none" stroke="#000" stroke-width="3" />
<line x1="141" y1="485" x2="115.5" y2="485" stroke="#000" stroke-width="3" />
<polyline points="123.5,480 115.5,485 123.5,490" fill="none" stroke="#000" stroke-width="3" stroke-linecap="round" stroke-linejoin="round"/>
<line x1="101" y1="503" x2="123" y2="501" stroke="#000" stroke-width="1" />
<line x1="101" y1="506" x2="123" y2="504" stroke="#000" stroke-width="1" />
<line x1="101" y1="509" x2="123" y2="507" stroke="#000" stroke-width="1" />
<line x1="101" y1="512" x2="123" y2="510" stroke="#000" stroke-width="1" />
<line x1="112" y1="297" x2="117.5" y2="358" stroke="#000" stroke-width="1" />
<polyline points="112.71,349.4 117.5,358 120.68,348.68" fill="none" stroke="#000" stroke-width="1" stroke-linecap="round" stroke-linejoin="round"/>
<text x="253.4" y="407.6" font-size="16" fill="#000" font-weight="bold" textLength="108.6" lengthAdjust="spacingAndGlyphs" >photo-seeding</text>
<line x1="317.3" y1="394" x2="386.5" y2="380.5" stroke="#000" stroke-width="1.4" />
<polyline points="379.41,385.96 386.5,380.5 377.88,378.11" fill="none" stroke="#000" stroke-width="2.2" stroke-linecap="round" stroke-linejoin="round"/>
<line x1="320" y1="411.7" x2="392.5" y2="429.5" stroke="#000" stroke-width="1.4" />
<polyline points="383.78,431.48 392.5,429.5 385.68,423.71" fill="none" stroke="#000" stroke-width="2.2" stroke-linecap="round" stroke-linejoin="round"/>
<text x="441.4" y="390.5" font-size="17" fill="#000" font-weight="bold" textLength="50.3" lengthAdjust="spacingAndGlyphs" >pumps</text>
<line x1="442.4" y1="390.5" x2="431.9" y2="373.4" stroke="#000" stroke-width="1.4" />
<polyline points="439.49,378.12 431.9,373.4 432.68,382.31" fill="none" stroke="#000" stroke-width="1.4" stroke-linecap="round" stroke-linejoin="round"/>
<line x1="442.4" y1="392" x2="430.2" y2="428.8" stroke="#000" stroke-width="1.4" />
<polyline points="428.92,419.95 430.2,428.8 436.51,422.47" fill="none" stroke="#000" stroke-width="1.4" stroke-linecap="round" stroke-linejoin="round"/>
<line x1="570.6" y1="288.5" x2="532" y2="193" stroke="#000" stroke-width="4.6" />
<polyline points="543.65,204.47 532,193 531.59,209.34" fill="none" stroke="#000" stroke-width="4.6" stroke-linecap="round" stroke-linejoin="round"/>
<line x1="566" y1="307.7" x2="536.3" y2="406" stroke="#000" stroke-width="4.6" />
<polyline points="534.42,389.76 536.3,406 546.86,393.52" fill="none" stroke="#000" stroke-width="4.6" stroke-linecap="round" stroke-linejoin="round"/>
</svg></body></html>
